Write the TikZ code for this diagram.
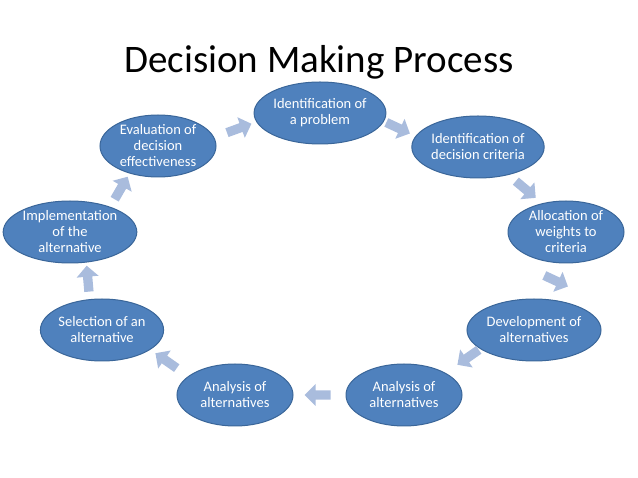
\documentclass[tikz,border=0pt]{standalone}
\usepackage{fontspec}
\setmainfont{Carlito}
\usetikzlibrary{shapes.arrows,shapes.geometric}
\definecolor{eblue}{HTML}{4F81BD}
\definecolor{eborder}{HTML}{3A6699}
\definecolor{ablue}{HTML}{A9BCDD}
\begin{document}
\begin{tikzpicture}[x=1pt,y=-1pt,
  ell/.style={ellipse,draw=eborder,line width=1pt,fill=eblue,text=white,minimum width=116pt,minimum height=62pt,inner sep=0pt,align=center,font=\fontsize{14.5}{16}\selectfont},
  arr/.style={single arrow,fill=ablue,draw=none,minimum height=26pt,minimum width=22pt,single arrow head extend=3pt,inner sep=2pt}]
\path[use as bounding box] (0,0) rectangle (638,478);
\node[font=\fontsize{39}{42}\selectfont] (t) at (319,62) {Decision Making Process};
\node[ell] (n1) at (320,113) {Identification of\\a problem};
\node[ell] (n2) at (478,147) {Identification of\\decision criteria};
\node[ell] (n3) at (566,232) {Allocation of\\weights to\\criteria};
\node[ell] (n4) at (534,330) {Development of\\alternatives};
\node[ell] (n5) at (404,395) {Analysis of\\alternatives};
\node[ell] (n6) at (235,395) {Analysis of\\alternatives};
\node[ell] (n7) at (102,330) {Selection of an\\alternative};
\node[ell] (n8) at (70,232) {Implementation\\of the\\alternative};
\node[ell] (n9) at (158,146) {Evaluation of\\decision\\effectiveness};
\node[arr,rotate=20] (a1) at (237,129) {};
\node[arr,rotate=-25] (a2) at (396,127) {};
\node[arr,rotate=-40] (a3) at (524,188) {};
\node[arr,rotate=-25] (a4) at (554,280) {};
\node[arr,rotate=-145] (a5) at (470,356) {};
\node[arr,rotate=180] (a6) at (320,395) {};
\node[arr,rotate=145] (a7) at (168,362) {};
\node[arr,rotate=95] (a8) at (88,281) {};
\node[arr,rotate=60] (a9) at (120,190) {};
\end{tikzpicture}
\end{document}
